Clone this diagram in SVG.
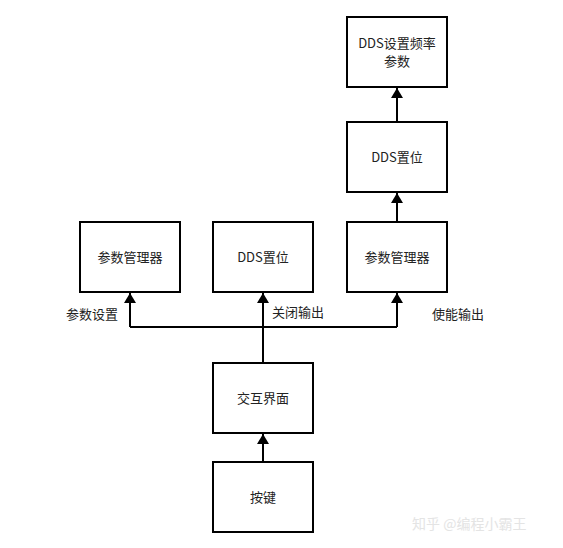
<svg xmlns="http://www.w3.org/2000/svg" width="563" height="548" viewBox="0 0 563 548">
<defs>
<style>
.box{fill:#fff;stroke:#000;stroke-width:2}
.t{font-family:"Noto Sans CJK SC","Liberation Sans",sans-serif;font-size:13px;fill:#222;text-anchor:middle}
.l{font-family:"Noto Sans CJK SC","Liberation Sans",sans-serif;font-size:13px;fill:#222}
.c{fill:none;stroke:#000;stroke-width:2}
.wm{font-family:"Noto Sans CJK SC",sans-serif;font-size:14px;fill:#e4e4e4}
</style>
<marker id="ah" viewBox="0 0 10 12" refX="10" refY="6" markerWidth="10" markerHeight="12" markerUnits="userSpaceOnUse" orient="auto">
<path d="M0,0 L10,6 L0,12 z" fill="#000"/>
</marker>
</defs>
<rect width="563" height="548" fill="#fff"/>
<g id="connectors">
<path class="c" d="M263,363 V327" />
<path class="c" d="M130,327 H397" />
<path class="c" d="M130,327 V293" marker-end="url(#ah)"/>
<path class="c" d="M263,327 V293" marker-end="url(#ah)"/>
<path class="c" d="M397,327 V293" marker-end="url(#ah)"/>
<path class="c" d="M263,462 V434" marker-end="url(#ah)"/>
<path class="c" d="M397,222 V193" marker-end="url(#ah)"/>
<path class="c" d="M397,122 V88" marker-end="url(#ah)"/>
<text class="l" x="66" y="319">参数设置</text>
<text class="l" x="272" y="317">关闭输出</text>
<text class="l" x="432" y="319">使能输出</text>
</g>
<g id="n-freq"><rect class="box" x="347" y="17" width="100" height="70"/><text class="t" x="397" y="48">DDS设置频率</text><text class="t" x="397" y="66">参数</text></g>
<g id="n-reset2"><rect class="box" x="347" y="122" width="100" height="70"/><text class="t" x="397" y="162">DDS置位</text></g>
<g id="n-param1"><rect class="box" x="80" y="222" width="100" height="70"/><text class="t" x="130" y="262">参数管理器</text></g>
<g id="n-reset1"><rect class="box" x="213" y="222" width="100" height="70"/><text class="t" x="263" y="262">DDS置位</text></g>
<g id="n-param2"><rect class="box" x="347" y="222" width="100" height="70"/><text class="t" x="397" y="262">参数管理器</text></g>
<g id="n-ui"><rect class="box" x="213" y="363" width="100" height="70"/><text class="t" x="263" y="403">交互界面</text></g>
<g id="n-key"><rect class="box" x="213" y="462" width="100" height="70"/><text class="t" x="263" y="502">按键</text></g>
<text class="wm" x="412" y="529">知乎 @编程小霸王</text>
</svg>
